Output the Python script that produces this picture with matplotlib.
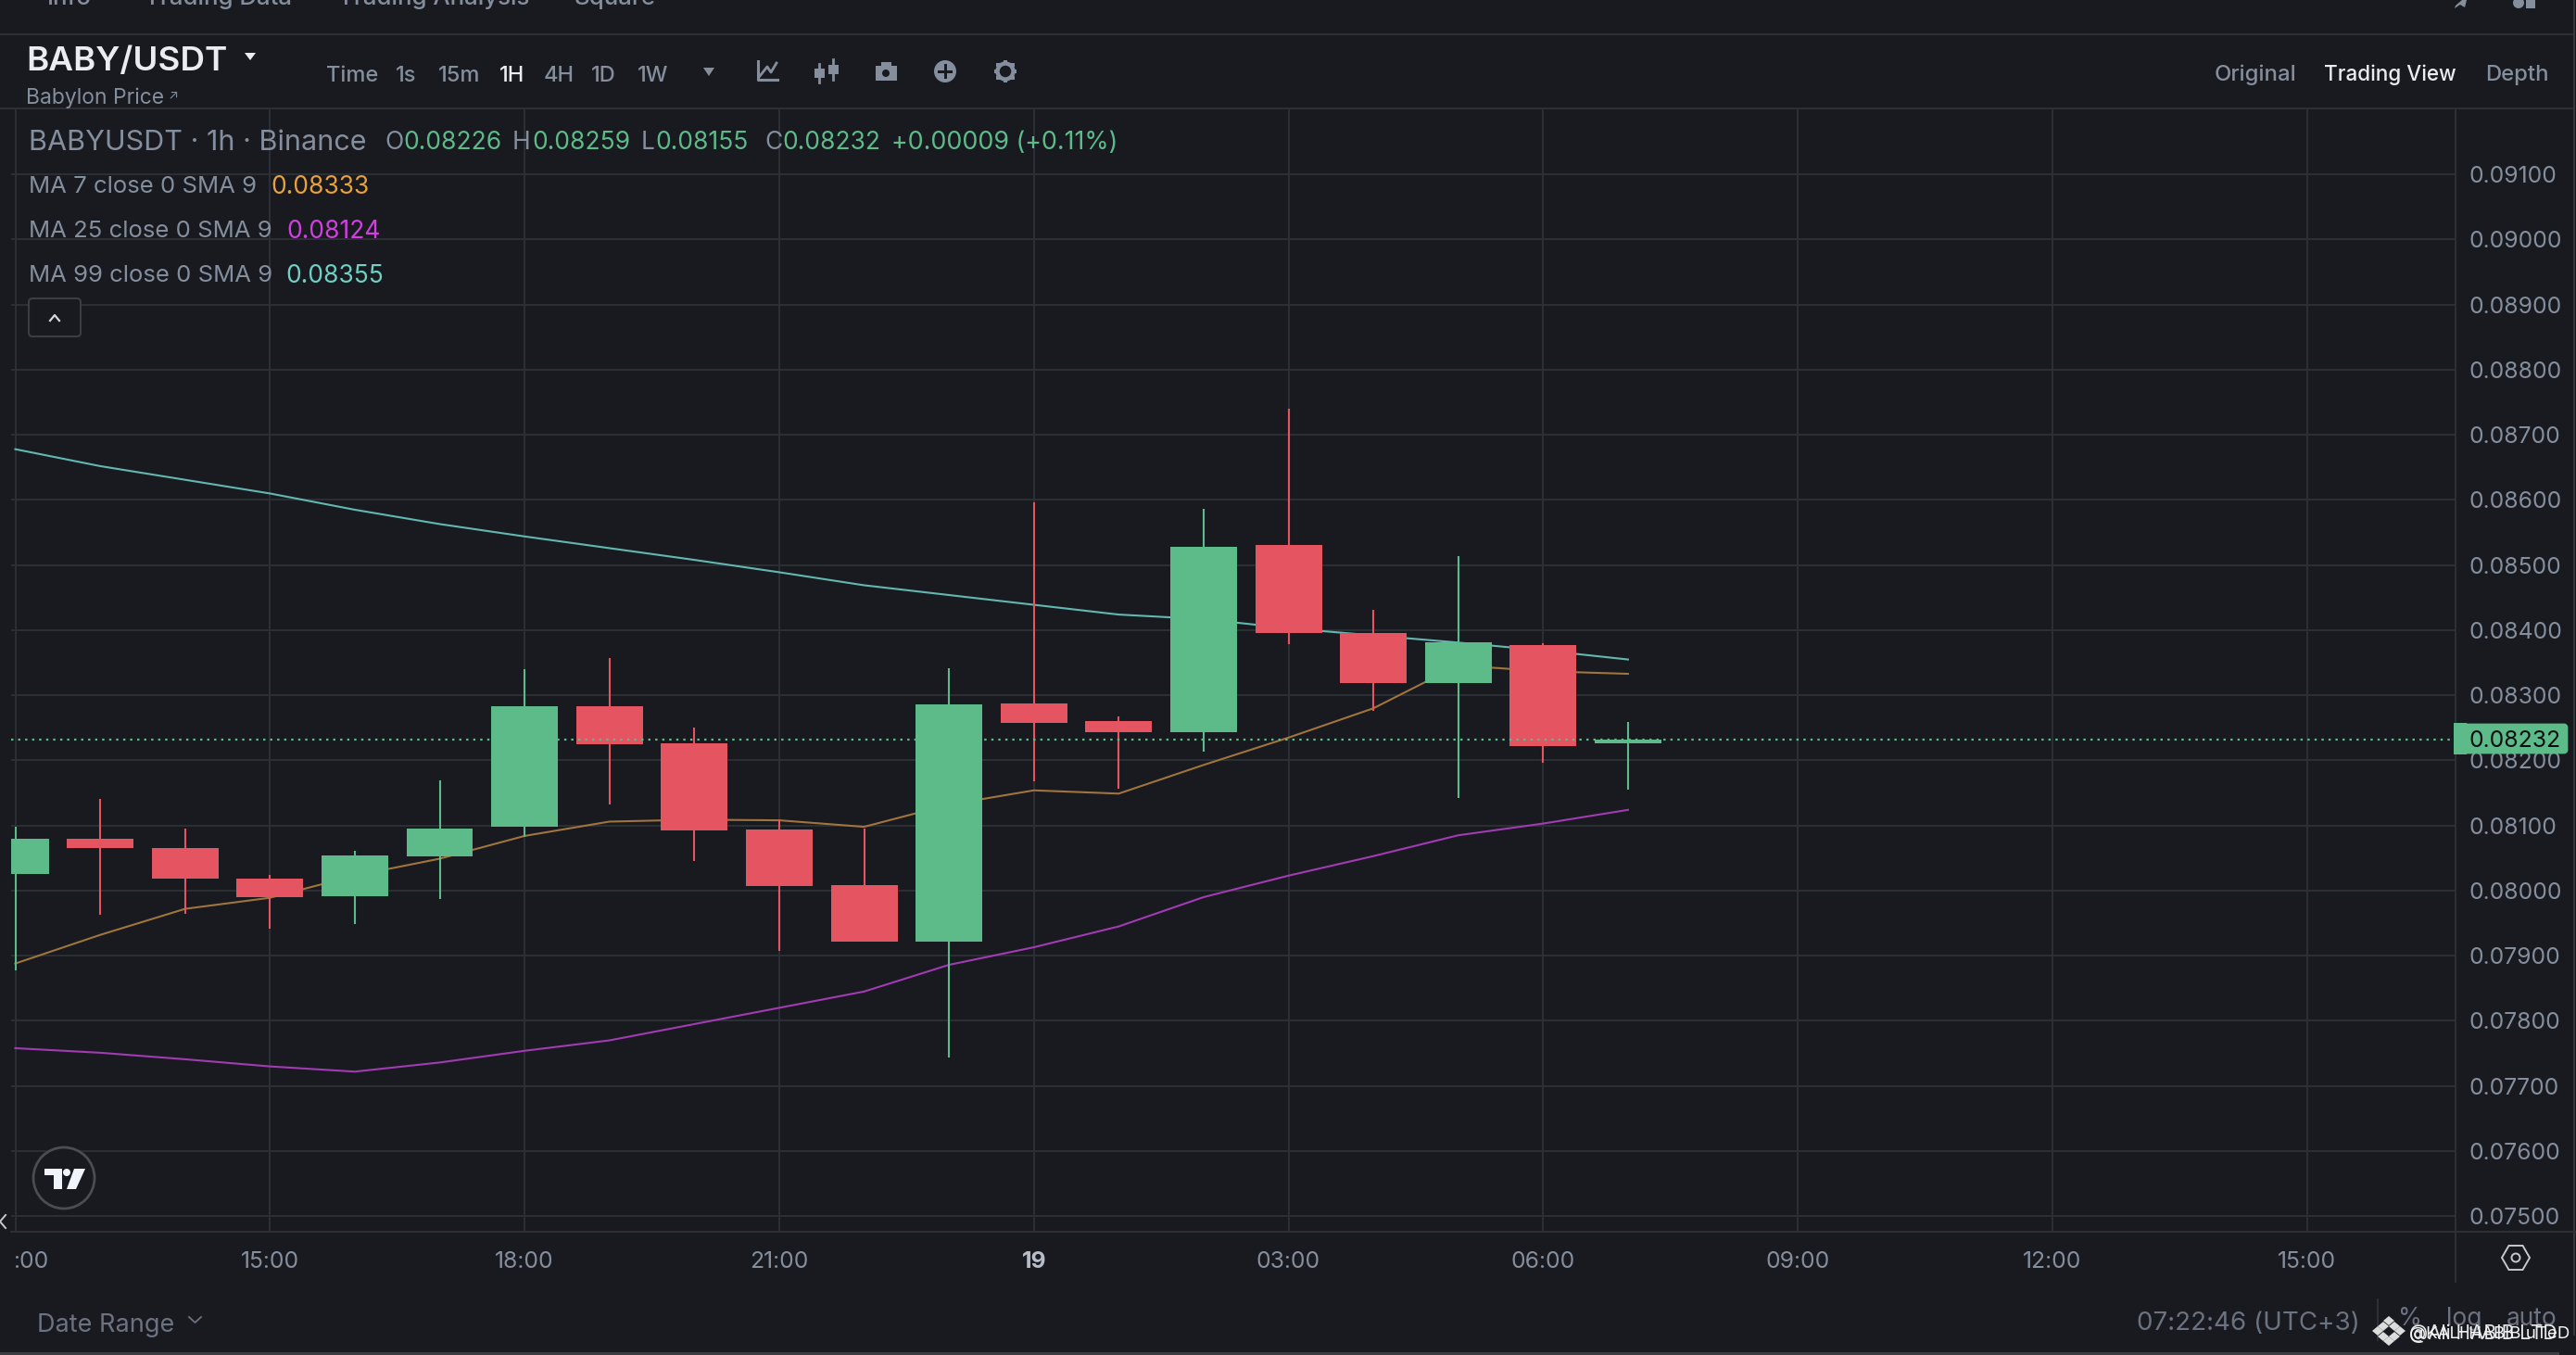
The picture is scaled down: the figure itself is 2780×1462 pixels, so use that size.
import matplotlib
matplotlib.use('Agg')
import matplotlib.pyplot as plt
from matplotlib.lines import Line2D
from matplotlib.patches import Circle, FancyBboxPatch, Polygon, Rectangle

W, H = 2780, 1462

# hours counted from 12:00 on the 18th
hours = list(range(20))
opens = [0.08025, 0.08079, 0.08065, 0.08018, 0.07991, 0.08052, 0.08098, 0.08283, 0.08226, 0.08094,
         0.08008, 0.07921, 0.08287, 0.08260, 0.08244, 0.08531, 0.08396, 0.08319, 0.08377, 0.08226]
highs = [0.08098, 0.08141, 0.08096, 0.08024, 0.08061, 0.08169, 0.08340, 0.08357, 0.08250, 0.08109,
         0.08095, 0.08341, 0.08596, 0.08267, 0.08587, 0.08740, 0.08431, 0.08514, 0.08380, 0.08259]
lows = [0.07878, 0.07963, 0.07964, 0.07941, 0.07948, 0.07987, 0.08083, 0.08132, 0.08045, 0.07908,
        0.07921, 0.07743, 0.08168, 0.08157, 0.08213, 0.08379, 0.08276, 0.08142, 0.08196, 0.08155]
closes = [0.08079, 0.08065, 0.08019, 0.07990, 0.08054, 0.08096, 0.08283, 0.08225, 0.08092, 0.08007,
          0.07921, 0.08286, 0.08258, 0.08244, 0.08528, 0.08396, 0.08319, 0.08381, 0.08222, 0.08232]
ma7 = [0.07888, 0.07932, 0.07972, 0.07989, 0.08023, 0.08049, 0.08084, 0.08106, 0.08109, 0.08108,
       0.08098, 0.08132, 0.08154, 0.08149, 0.08193, 0.08235, 0.08280, 0.08346, 0.08337, 0.08333]
ma25 = [0.07758, 0.07751, 0.07741, 0.07730, 0.07722, 0.07736, 0.07754, 0.07770, 0.07795, 0.07820,
        0.07845, 0.07886, 0.07913, 0.07945, 0.07990, 0.08023, 0.08053, 0.08085, 0.08103, 0.08124]
ma99 = [0.08678, 0.08652, 0.08631, 0.08610, 0.08585, 0.08563, 0.08544, 0.08526, 0.08508, 0.08489,
        0.08469, 0.08454, 0.08439, 0.08424, 0.08417, 0.08403, 0.08392, 0.08381, 0.08369, 0.08355]
last_price = 0.08232

price_ticks = [0.075 + 0.001 * i for i in range(17)]
time_ticks = [0, 3, 6, 9, 12, 15, 18, 21, 24, 27]
time_labels = ['', '15:00', '18:00', '21:00', '19', '03:00', '06:00', '09:00', '12:00', '15:00']

BG = '#181a20'
GRID_H = '#2a2f33'
GRID_V = '#2b2e35'
EDGE = '#2b3035'
GREEN = '#5dbb8a'
RED = '#e55561'
GREY = '#848e9c'
DIM = '#6b7280'

plt.rcParams['font.family'] = ['Inter', 'DejaVu Sans']


def px(x, y):
    return x, H - y


def text(x, y, s, size=17.8, color=GREY, ha='left', weight='normal', va='center_baseline', **kw):
    return fig.text(x / W, 1 - y / H, s, fontsize=size, color=color, ha=ha, va=va, weight=weight, **kw)


def hline(x0, x1, y, color=EDGE, lw=1.44, **kw):
    fig.add_artist(Line2D([x0, x1], [H - y, H - y], transform=None, color=color, lw=lw, **kw))


def vline(x, y0, y1, color=EDGE, lw=1.44, **kw):
    fig.add_artist(Line2D([x, x], [H - y0, H - y1], transform=None, color=color, lw=lw, **kw))


def poly(points, color=GREY, zorder=4):
    fig.add_artist(Polygon([px(a, b) for a, b in points], closed=True, transform=None, fc=color, ec='none', zorder=zorder))


def rect(x0, y0, x1, y1, color=GREY, zorder=4):
    fig.add_artist(Rectangle((x0, H - y1), x1 - x0, y1 - y0, transform=None, fc=color, ec='none', zorder=zorder))


fig = plt.figure(figsize=(W / 100, H / 100), dpi=100, facecolor=BG)

# plot panel, 91.6 px per hour and 70.25 px per 0.001
left, right, top, bottom = 12, 2650, 117, 1329
ax = fig.add_axes([left / W, 1 - bottom / H, (right - left) / W, (bottom - top) / H], facecolor=BG)
ax.set_xlim((left - 16.5) / 91.6, (right - 16.5) / 91.6)
ax.set_ylim(0.091 - (bottom - 188.2) / 70250, 0.091 - (top - 188.2) / 70250)
ax.set_axisbelow(True)

ax.yaxis.tick_right()
ax.set_yticks(price_ticks)
ax.set_yticklabels(['%.5f' % p for p in price_ticks], color=GREY, fontsize=17.8)
ax.set_xticks(time_ticks)
ax.set_xticklabels(time_labels, color=GREY, fontsize=17.8)
ax.tick_params(axis='both', length=0)
ax.tick_params(axis='y', pad=10.5)
ax.tick_params(axis='x', pad=15)
ax.xaxis.get_ticklabels()[4].set_fontweight('bold')
ax.xaxis.get_ticklabels()[4].set_color('#b7bdc6')
ax.grid(axis='y', color=GRID_H, lw=1.44)
ax.grid(axis='x', color=GRID_V, lw=1.44)
for name, spine in ax.spines.items():
    spine.set_visible(name in ('right', 'bottom', 'top'))
    spine.set_color(EDGE)
    spine.set_linewidth(1.44)

ax.plot(hours, ma99, color='#62b8b0', lw=1.5, zorder=2)
ax.plot(hours, ma7, color='#a0743d', lw=1.5, zorder=2)
ax.plot(hours, ma25, color='#a23ab3', lw=1.5, zorder=2)

colors = [GREEN if c >= o else RED for o, c in zip(opens, closes)]
ax.vlines(hours, lows, highs, colors=colors, lw=1.5, zorder=3)
ax.bar(hours, [abs(c - o) for o, c in zip(opens, closes)], bottom=[min(o, c) for o, c in zip(opens, closes)],
       width=72 / 91.6, color=colors, linewidth=0, zorder=4)
ax.axhline(last_price, color=GREEN, lw=1.6, linestyle=(0, (1.1, 2.3)), zorder=5)

# last price tag
fig.add_artist(FancyBboxPatch((2650, H - 812), 120, 30, boxstyle='round,pad=0,rounding_size=3', transform=None,
                              fc=GREEN, ec=GREEN, lw=2, zorder=5))
rect(2648, 780, 2662, 814, color=GREEN, zorder=5)
text(2665, 797, '%.5f' % last_price, color='#0b0e11', zorder=6)

# header
hline(0, 2778, 37)
hline(0, 2778, 117)
vline(2778, 0, 1440, color='#34373c')
hline(0, 2760, 1460, color='#3a3d42', lw=2.2)
hline(2650, W, 1329)
vline(2650, 1329, 1383)
vline(2566, 1402, 1446)

for x, s in [(51, 'Info'), (156, 'Trading Data'), (365, 'Trading Analysis'), (620, 'Square')]:
    text(x, 5, s, size=18.6, weight='medium', va='baseline')
poly([(2650, 6), (2657, 0), (2662, 0), (2660, 8), (2655, 5), (2649, 9)], color='#848e9c')
fig.add_artist(Circle(px(2718, 3), 6, transform=None, fc=GREY, ec='none', zorder=4))
rect(2726, 0, 2736, 9)

text(28, 63, 'BABY/USDT', size=26.5, color='#eaecef', weight='semibold')
poly([(264, 57), (276, 57), (270, 65)], color='#eaecef')
text(28, 103, 'Babylon Price', size=16.5)
text(181, 101, '↗', size=10)

for x, s, c in [(352, 'Time', GREY), (427, '1s', GREY), (473, '15m', GREY), (539, '1H', '#eaecef'),
                (587, '4H', GREY), (638, '1D', GREY), (688, '1W', GREY)]:
    text(x, 79, s, size=17, color=c, weight='medium')
poly([(759, 73), (771, 73), (765, 82)])

# toolbar icons
fig.add_artist(Line2D([818, 818, 839], [H - 66, H - 86, H - 86], transform=None, color=GREY, lw=2.2, zorder=4))
fig.add_artist(Line2D([820, 828, 832, 838], [H - 82, H - 72, H - 78, H - 68], transform=None, color=GREY, lw=2, zorder=4))
rect(879, 74, 890, 84)
rect(894, 70, 905, 80)
vline(884, 69, 89, color=GREY, lw=2, zorder=4)
vline(899, 64, 86, color=GREY, lw=2, zorder=4)
rect(945, 71, 968, 87)
rect(951, 67, 962, 72)
fig.add_artist(Circle(px(956, 79), 4, transform=None, fc=BG, ec='none', zorder=5))
fig.add_artist(Circle(px(1020, 77), 12, transform=None, fc=GREY, ec='none', zorder=4))
rect(1012, 75.5, 1028, 78.5, color=BG, zorder=5)
rect(1018.5, 69, 1021.5, 85, color=BG, zorder=5)
fig.add_artist(Circle(px(1085, 77), 8.5, transform=None, fc=BG, ec=GREY, lw=3.2, zorder=4))
for a, b in [(1083, 65), (1083, 85), (1073, 75), (1093, 75), (1075, 68), (1091, 68), (1075, 82), (1091, 82)]:
    rect(a, b, a + 4, b + 4)

text(2390, 78, 'Original', size=17.2, weight='medium')
text(2508, 78, 'Trading View', size=16.2, color='#eaecef', weight='medium')
text(2682, 78, 'Depth', size=17.2, weight='medium')

# legend rows
text(31, 151, 'BABYUSDT · 1h · Binance', size=22)
for x, s, c, fs in [(415, 'O', GREY, 19), (435, '0.08226', GREEN, 19), (553, 'H', GREY, 19), (574, '0.08259', GREEN, 19),
                    (692, 'L', GREY, 19), (707, '0.08155', GREEN, 19), (825, 'C', GREY, 19), (844, '0.08232', GREEN, 19),
                    (962, '+0.00009 (+0.11%)', GREEN, 19.3)]:
    text(x, 151, s, size=fs, color=c)
for y, s, x, val, c in [(199, 'MA 7 close 0 SMA 9', 292, '0.08333', '#e8a13c'),
                        (247, 'MA 25 close 0 SMA 9', 309, '0.08124', '#d13fe0'),
                        (295, 'MA 99 close 0 SMA 9', 308, '0.08355', '#6fd0c4')]:
    text(31, y, s, size=18.5)
    text(x, y, val, size=19, color=c)

fig.add_artist(FancyBboxPatch((31, H - 363), 56, 41, boxstyle='round,pad=0,rounding_size=4', transform=None,
                              fc=BG, ec='#3a3e44', lw=1.5, zorder=4))
fig.add_artist(Line2D([54, 59, 64], [H - 346, H - 340, H - 346], transform=None, color='#d5d8dc', lw=1.6, zorder=5))

# tradingview badge
fig.add_artist(Circle(px(69, 1271), 33, transform=None, fc=BG, ec='#4a4d52', lw=2, zorder=4))
rect(48, 1261, 67, 1268, color='#f0f3fa', zorder=5)
rect(58, 1261, 67, 1283, color='#f0f3fa', zorder=5)
fig.add_artist(Circle(px(72, 1265), 4, transform=None, fc='#f0f3fa', ec='none', zorder=5))
poly([(80, 1261), (92, 1261), (82, 1283), (72, 1283)], color='#f0f3fa', zorder=5)
fig.add_artist(Line2D([6, 0, 6], [H - 1311, H - 1318, H - 1325], transform=None, color='#c8ccd0', lw=1.4, zorder=4))

# bottom bar
text(14, 1359, ':00')
text(40, 1427, 'Date Range', size=19.5, color=DIM)
fig.add_artist(Line2D([204, 210.5, 217], [H - 1421, H - 1427, H - 1421], transform=None, color=DIM, lw=1.3, zorder=4))
text(2306, 1425, '07:22:46 (UTC+3)', size=20, color=DIM)
text(2588, 1420, '%', size=19, color=DIM)
text(2640, 1420, 'log', size=19, color=DIM)
text(2705, 1420, 'auto', size=19, color=DIM)

hex_pts = [(2700, 1357), (2707.5, 1344), (2722.5, 1344), (2730, 1357), (2722.5, 1370), (2707.5, 1370)]
fig.add_artist(Polygon([px(a, b) for a, b in hex_pts], closed=True, transform=None, fc='none', ec='#c5c8cc', lw=1.4, zorder=4))
fig.add_artist(Circle(px(2715, 1357), 4.5, transform=None, fc='none', ec='#c5c8cc', lw=1.4, zorder=4))

# watermark, two strings laid over each other
for a, b in [(2578, 1425), (2590, 1436), (2578, 1447), (2566, 1436), (2584, 1431), (2572, 1431), (2584, 1442), (2572, 1442)]:
    poly([(a, b - 5), (a + 6, b), (a, b + 5), (a - 6, b)], color='#dcdcdc', zorder=7)
text(2600, 1437, '@Ali HABIB LTD', size=15, color='#e8e8e8', zorder=7)
text(2600, 1437, '@KALI HABIB uTeD', size=13.5, color='#f4f4f4', zorder=8)

fig.savefig('out.png', dpi=100, facecolor=BG)
